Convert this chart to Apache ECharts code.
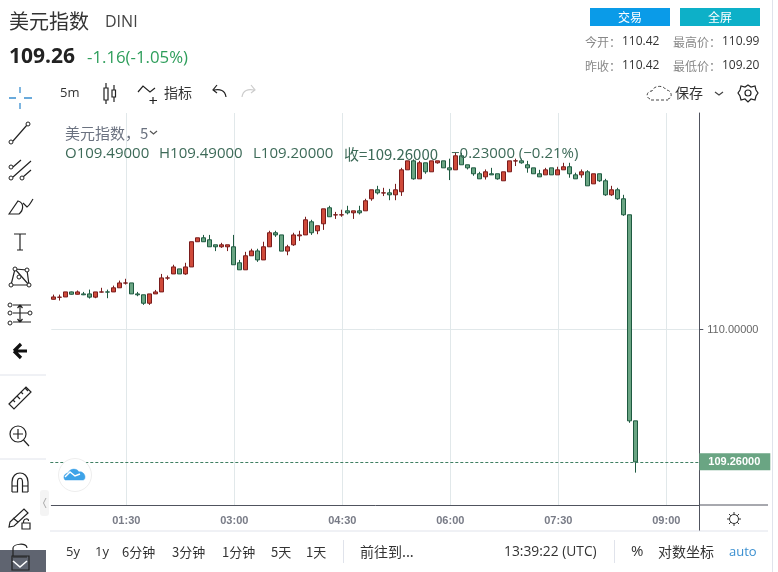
<!DOCTYPE html>
<html>
<head>
<meta charset="utf-8">
<style>html,body{margin:0;padding:0;background:#fff}#chart{width:778px;height:572px}</style>
<script src="https://cdn.jsdelivr.net/npm/echarts@6/dist/echarts.min.js"></script>
</head>
<body>
<div id="chart"></div>
<script>
var timeSlots = [
  '00:30','00:35','00:40','00:45','00:50','00:55','01:00','01:05','01:10','01:15','01:20','01:25',
  '01:30','01:35','01:40','01:45','01:50','01:55','02:00','02:05','02:10','02:15','02:20','02:25',
  '02:30','02:35','02:40','02:45','02:50','02:55','03:00','03:05','03:10','03:15','03:20','03:25',
  '03:30','03:35','03:40','03:45','03:50','03:55','04:00','04:05','04:10','04:15','04:20','04:25',
  '04:30','04:35','04:40','04:45','04:50','04:55','05:00','05:05','05:10','05:15','05:20','05:25',
  '05:30','05:35','05:40','05:45','05:50','05:55','06:00','06:05','06:10','06:15','06:20','06:25',
  '06:30','06:35','06:40','06:45','06:50','06:55','07:00','07:05','07:10','07:15','07:20','07:25',
  '07:30','07:35','07:40','07:45','07:50','07:55','08:00','08:05','08:10','08:15','08:20','08:25',
  '08:30','08:35','08:40','08:45','08:50','08:55','09:00','09:05','09:10','09:15','09:20','09:25'
];
var timeTicks = ['01:30','03:00','04:30','06:00','07:30','09:00'];
var priceTicks = [110];
var lastPrice = 109.26;

var opens = [
  110.164,110.175,110.177,110.205,110.192,110.194,110.194,110.176,110.204,110.205,
  110.205,110.228,110.254,110.255,110.194,110.189,110.142,110.194,110.205,110.282,
  110.305,110.333,110.305,110.344,110.484,110.506,110.495,110.467,110.456,110.456,
  110.456,110.367,110.328,110.406,110.433,110.383,110.456,110.534,110.522,110.432,
  110.467,110.517,110.522,110.595,110.545,110.584,110.673,110.633,110.633,110.656,
  110.645,110.656,110.656,110.723,110.773,110.755,110.756,110.745,110.762,110.884,
  110.934,110.834,110.923,110.873,110.923,110.934,110.895,110.884,110.962,110.912,
  110.895,110.862,110.845,110.862,110.862,110.823,110.873,110.933,110.934,110.912,
  110.895,110.862,110.856,110.895,110.856,110.884,110.901,110.856,110.856,110.873,
  110.806,110.862,110.823,110.745,110.773,110.723,110.634,109.488
];
var closes = [
  110.177,110.176,110.205,110.192,110.205,110.189,110.176,110.205,110.205,110.204,
  110.228,110.255,110.255,110.194,110.189,110.142,110.194,110.205,110.283,110.283,
  110.344,110.305,110.344,110.484,110.506,110.484,110.456,110.456,110.467,110.467,
  110.356,110.328,110.406,110.433,110.383,110.456,110.534,110.522,110.432,110.456,
  110.522,110.522,110.606,110.534,110.573,110.667,110.623,110.634,110.634,110.645,
  110.656,110.645,110.712,110.773,110.756,110.756,110.745,110.773,110.884,110.934,
  110.834,110.923,110.873,110.934,110.934,110.895,110.884,110.962,110.912,110.895,
  110.862,110.834,110.873,110.856,110.834,110.873,110.934,110.934,110.923,110.895,
  110.862,110.845,110.884,110.856,110.884,110.901,110.862,110.834,110.873,110.795,
  110.862,110.823,110.745,110.773,110.723,110.634,109.488,109.26
];
var lows = [
  110.163,110.157,110.177,110.190,110.190,110.187,110.168,110.170,110.202,110.170,
  110.205,110.228,110.246,110.194,110.181,110.133,110.133,110.194,110.205,110.272,
  110.305,110.305,110.300,110.344,110.484,110.484,110.456,110.432,110.450,110.432,
  110.356,110.328,110.328,110.406,110.372,110.383,110.456,110.511,110.432,110.409,
  110.461,110.489,110.522,110.522,110.526,110.550,110.623,110.611,110.623,110.636,
  110.611,110.636,110.656,110.712,110.747,110.738,110.715,110.715,110.739,110.884,
  110.829,110.834,110.862,110.873,110.918,110.895,110.827,110.884,110.912,110.886,
  110.851,110.834,110.830,110.855,110.829,110.823,110.873,110.905,110.918,110.868,
  110.862,110.845,110.856,110.856,110.856,110.884,110.840,110.834,110.840,110.795,
  110.806,110.817,110.739,110.739,110.717,110.628,109.477,109.20
];
var highs = [
  110.190,110.190,110.205,110.207,110.213,110.205,110.218,110.205,110.228,110.218,
  110.240,110.268,110.278,110.255,110.205,110.189,110.194,110.216,110.305,110.296,
  110.356,110.333,110.367,110.484,110.506,110.522,110.522,110.467,110.478,110.467,
  110.522,110.383,110.428,110.445,110.445,110.484,110.545,110.545,110.522,110.467,
  110.534,110.545,110.623,110.606,110.573,110.667,110.684,110.650,110.662,110.684,
  110.656,110.684,110.723,110.773,110.795,110.784,110.778,110.806,110.895,110.934,
  110.942,110.934,110.923,110.934,110.934,110.934,110.946,110.979,110.979,110.912,
  110.895,110.873,110.886,110.895,110.862,110.873,110.934,110.946,110.946,110.934,
  110.895,110.884,110.895,110.895,110.901,110.923,110.923,110.868,110.886,110.882,
  110.862,110.862,110.834,110.795,110.784,110.745,110.634,109.488
];

var candles = [];
for (var i = 0; i < opens.length; i++) {
  candles.push([opens[i], closes[i], lows[i], highs[i]]);
}

var cjk = '"Noto Sans CJK SC","Open Sans",sans-serif';
var latin = '"Open Sans","Noto Sans CJK SC",sans-serif';
var priceGreen = '#6aa583';
var grayLine = '#e0e3eb';
var gridColor = '#e1e8ea';
var axisDark = '#50535e';

var shapes = [];
var iconCount = 0;
function txt(x, y, text, size, color, opts) {
  opts = opts || {};
  shapes.push({
    type: 'text', x: x, y: y, z: 50,
    style: {
      text: text, fontSize: size, fill: color,
      fontFamily: opts.family || cjk, fontWeight: opts.weight || 'normal',
      textAlign: opts.align || 'left', textVerticalAlign: 'middle'
    }
  });
}
function box(x, y, w, h, color, r) {
  shapes.push({ type: 'rect', z: 40, shape: { x: x, y: y, width: w, height: h, r: r || 0 }, style: { fill: color } });
}
function line(x1, y1, x2, y2, color) {
  shapes.push({ type: 'line', z: 40, shape: { x1: x1, y1: y1, x2: x2, y2: y2 }, style: { stroke: color, lineWidth: 1 } });
}
// toolbar glyphs are svg path strings, each registered as its own shape
function icon(d, color, width, fill, dash) {
  var name = 'toolIcon' + (iconCount++);
  echarts.graphic.registerShape(name, echarts.graphic.extendPath(d, {}));
  shapes.push({
    type: name, z: 45, shape: {},
    style: { stroke: color, lineWidth: width || 1.2, fill: fill || 'none', lineDash: dash || null }
  });
}
function dot(x, y, r) {
  shapes.push({ type: 'circle', z: 46, shape: { cx: x, cy: y, r: r || 2 }, style: { stroke: '#222', fill: '#fff', lineWidth: 1 } });
}

// header
txt(9, 21, '美元指数', 20, '#333');
txt(105, 22, 'DINI', 16, '#444', { family: latin });
txt(9, 57, '109.26', 21, '#222', { family: latin, weight: 'bold' });
txt(87, 58, '-1.16(-1.05%)', 16.8, '#2e9e5b', { family: latin });

box(590, 8, 80, 18, '#0a9be8');
box(680, 8, 80, 18, '#0db0c8');
txt(630, 17, '交易', 12, '#fff', { align: 'center' });
txt(720, 17, '全屏', 12, '#fff', { align: 'center' });
txt(585, 42, '今开：', 12, '#888');
txt(622, 42, '110.42', 12, '#333', { family: latin });
txt(673, 42, '最高价：', 12, '#888');
txt(722, 42, '110.99', 12, '#333', { family: latin });
txt(585, 66, '昨收：', 12, '#888');
txt(622, 66, '110.42', 12, '#333', { family: latin });
txt(673, 66, '最低价：', 12, '#888');
txt(722, 66, '109.20', 12, '#333', { family: latin });

// top toolbar
txt(60, 93, '5m', 13, '#333', { family: latin });
icon('M104 88H108V100H104ZM106 83V88M106 100V104M112 90H115.5V97H112ZM114 85V90M114 97V102', '#222');
icon('M138 92L143 86L150 92L155 88M153 97V104M149.5 100.5H157', '#222');
txt(164, 93, '指标', 14, '#333');
icon('M226 97C225 90 220 89 214 90M217 85L213 90L217 93', '#222');
icon('M242 97C243 90 248 89 254 90M251 85L255 90L251 93', '#ccc');
icon('M650 99C645 97 647 91 652 91C654 85 664 85 666 90C672 90 673 98 668 99', '#444', 1, 'none', [3, 2]);
icon('M651 100H668', '#444', 1, 'none', [3, 2]);
txt(675, 93, '保存', 14, '#333');
icon('M715 92L719 95L723 92', '#444');
icon('M748 85L751 87L755 86L756 90L758 93L756 96L755 100L751 99L748 102L745 99L741 100L740 96L738 93L740 90L741 86L745 87Z', '#222');
shapes.push({ type: 'circle', z: 46, shape: { cx: 748, cy: 93, r: 3 }, style: { stroke: '#222', fill: 'none', lineWidth: 1.2 } });

// left toolbar
icon('M20 87V93M20 103V109M9 98H16M24 98H32', '#3a8fd0', 1.3);
icon('M13 141L27 125', '#222'); dot(11, 142); dot(28, 124);
icon('M13 167L21 160M13 177L31 161M23 177L31 170', '#222'); dot(11, 167); dot(11, 178); dot(22, 178);
icon('M9 214L18 201C25 203 23 211 19 214ZM23 203L27 207C30 205 31 202 33 199', '#222');
icon('M14 234H26M20 234V250M17 250H23', '#222');
icon('M11 285L15 269L29 285L27 270L15 269M11 285L29 285', '#222'); dot(11, 285); dot(15, 269); dot(29, 285); dot(27, 270); dot(19, 277);
icon('M13 305H31M13 313H28M13 322H31M20 305V322M17.5 308L20 305L22.5 308M17.5 319L20 322L22.5 319', '#222'); dot(10, 305); dot(10, 313); dot(30, 313); dot(10, 323);
icon('M14 351H27M14 351L21 344M14 351L21 358', '#111', 3.2);
line(0, 375, 46, 375, grayLine);
icon('M9 404L26 387L31 392L14 409ZM13 400L15 402M17 396L20 399M21 392L23 394M25 388L28 391', '#222');
icon('M23.5 440L29 446M13 434H23M18 429V439', '#222');
shapes.push({ type: 'circle', z: 46, shape: { cx: 18, cy: 434, r: 8 }, style: { stroke: '#222', fill: 'none', lineWidth: 1.2 } });
line(0, 459, 46, 459, grayLine);
icon('M12 492V482C12 470 28 470 28 482V492M12 492H17.5V482C17.5 477 22.5 477 22.5 482V492H28M12 486H17.5M22.5 486H28', '#222');
icon('M10 522L24 509L28 513L14 526L9 527ZM13 518L18 522', '#222');
icon('M22 523H30V529H22ZM23.5 523C23 518 29 518 28.5 521', '#222');
icon('M13 556V548C13 544 27 542 27 548M12 556H29V570H12Z', '#222');
box(0, 550, 46, 22, '#5f6470');
icon('M13 561L20 567L27 561', '#fff', 1.6);
icon('M13 557H27', '#222', 1);
box(40, 490, 9, 26, '#f4f4f4', 3);
icon('M46 498L43.5 503L46 508', '#aaa', 1);

// logo
shapes.push({ type: 'circle', z: 44, shape: { cx: 75, cy: 475, r: 16.5 }, style: { stroke: '#eee', fill: '#fff', lineWidth: 1 } });
icon('M65 480C62 476 66 473 68 473C70 468 77 468 79 472C82 471 85 474 85 477C85 479 84 480 83 480Z', '#3ea3e8', 0.5, '#3ea3e8');
icon('M65 477L70 472L75 476L80 474', '#fff', 1.4);

// axis extensions and footer
line(699, 505, 768, 505, axisDark);
line(699.5, 505, 699.5, 531, axisDark);
line(50, 531, 768, 531, grayLine);
line(772.5, 0, 772.5, 572, grayLine);
shapes.push({ type: 'circle', z: 46, shape: { cx: 734, cy: 519, r: 4.5 }, style: { stroke: '#333', fill: 'none', lineWidth: 1 } });
icon('M734 512V514.5M734 523.5V526M727 519H729.5M738.5 519H741M729 514L730.8 515.8M737.2 522.2L739 524M729 524L730.8 522.2M737.2 515.8L739 514', '#333', 1);

txt(66, 552, '5y', 13, '#333', { family: latin });
txt(95, 552, '1y', 13, '#333', { family: latin });
txt(122, 552, '6分钟', 13, '#333');
txt(172, 552, '3分钟', 13, '#333');
txt(222, 552, '1分钟', 13, '#333');
txt(271, 552, '5天', 13, '#333');
txt(306, 552, '1天', 13, '#333');
line(343.5, 540, 343.5, 563, grayLine);
txt(360, 552, '前往到...', 14, '#333');
txt(504, 552, '13:39:22 (UTC)', 13.8, '#333', { family: latin });
line(614.5, 540, 614.5, 563, grayLine);
txt(631, 552, '%', 15, '#333', { family: latin });
txt(658, 552, '对数坐标', 14, '#333');
txt(729, 552, 'auto', 13, '#3a8fd0', { family: latin });

// legend
var legendGreen = '#3d6a58';
txt(65, 133, '美元指数，5', 15, '#6b7280');
icon('M150 131L153.5 134L157 131', '#555');
txt(65, 154, 'O109.49000', 15, legendGreen, { family: latin });
txt(159, 154, 'H109.49000', 15, legendGreen, { family: latin });
txt(253, 154, 'L109.20000', 15, legendGreen, { family: latin });
txt(344, 154, '收=109.26000', 15, legendGreen);
txt(451, 154, '−0.23000 (−0.21%)', 15, legendGreen, { family: latin });

var isTick = function (index, value) {
  return timeTicks.indexOf(value) >= 0;
};

var option = {
  animation: false,
  backgroundColor: '#fff',
  grid: [
    { left: 50.3, right: 79.7, top: 113, bottom: 67 },
    { left: 51.3, right: 78.7, top: 113, bottom: 67 }
  ],
  xAxis: [
    {
      type: 'category', gridIndex: 0, data: timeSlots, show: false, boundaryGap: true
    },
    {
      type: 'category', gridIndex: 1, data: timeSlots, boundaryGap: true,
      axisLine: { lineStyle: { color: axisDark } },
      axisTick: { interval: isTick, alignWithLabel: true, length: 3, lineStyle: { color: axisDark } },
      axisLabel: { interval: isTick, color: '#787b86', fontSize: 11, fontWeight: 'bold', fontFamily: 'Liberation Sans', margin: 10 },
      splitLine: { show: true, interval: isTick, alignWithLabel: true, lineStyle: { color: gridColor } }
    }
  ],
  yAxis: [
    {
      type: 'value', gridIndex: 0, min: 109.02, max: 111.2, show: false, splitLine: { show: false }
    },
    {
      type: 'value', gridIndex: 1, min: 109.02, max: 111.2, position: 'right',
      axisLine: { show: true, lineStyle: { color: axisDark } },
      axisTick: { show: true, length: 4, customValues: priceTicks, lineStyle: { color: axisDark } },
      axisLabel: {
        color: '#666', fontSize: 11, fontFamily: 'Liberation Sans', margin: 8,
        verticalAlign: 'top', padding: [-4, 0, 0, 0], lineHeight: 11,
        customValues: priceTicks,
        formatter: function (v) { return v.toFixed(5); }
      },
      splitLine: { show: true, lineStyle: { color: gridColor } }
    }
  ],
  series: [
    {
      type: 'candlestick',
      xAxisIndex: 0,
      yAxisIndex: 0,
      data: candles,
      barWidth: 4,
      itemStyle: {
        color: '#cf4a3a', color0: priceGreen,
        borderColor: '#7a1c1c', borderColor0: '#1e5a40', borderWidth: 1
      },
      markLine: {
        symbol: 'none',
        silent: true,
        data: [{ yAxis: lastPrice }],
        lineStyle: { color: '#3f7f62', type: [3, 2], width: 1 },
        label: {
          position: 'end', distance: 1,
          formatter: function () { return lastPrice.toFixed(5); },
          color: '#fff', fontSize: 11, fontWeight: 'bold', fontFamily: 'Liberation Sans',
          backgroundColor: priceGreen, padding: [3, 10, 3, 9], lineHeight: 11
        }
      }
    }
  ],
  graphic: shapes
};

var chart = echarts.init(document.getElementById('chart'));
chart.setOption(option);
</script>
</body>
</html>
